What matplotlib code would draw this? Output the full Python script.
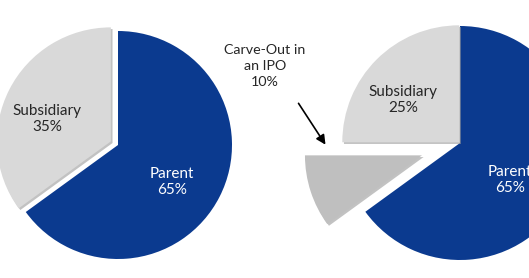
import matplotlib
matplotlib.use("Agg")
import matplotlib.pyplot as plt
import matplotlib.patheffects as pe

plt.rcParams['font.family'] = ['Lato', 'DejaVu Sans']

# Data
left_labels = ["Parent", "Subsidiary"]
left_values = [65, 35]
right_labels = ["Parent", "Carve-Out in\nan IPO", "Subsidiary"]
right_values = [65, 10, 25]

blue = "#0B3A8F"
light = "#D9D9D9"
mid = "#BFBFBF"

W, H = 529, 278
fig = plt.figure(figsize=(W / 100, H / 100), dpi=100)
ax = fig.add_axes([0, 0, 1, 1])

shadow = [pe.SimplePatchShadow(offset=(1.2, -1.2), shadow_rgbFace="#9A9A9A", alpha=0.6), pe.Normal()]

# Left pie (explode in axis units since a radius is given)
lw, _ = ax.pie(left_values, colors=[blue, light], startangle=90, counterclock=False,
               explode=[0, 8], center=(118, 133), radius=114, frame=True,
               wedgeprops=dict(linewidth=0))
lw[1].set_path_effects(shadow)

# Right pie
rw, _ = ax.pie(right_values, colors=[blue, mid, light], startangle=90, counterclock=False,
               explode=[0, 40, 1], center=(460, 135), radius=117, frame=True,
               wedgeprops=dict(linewidth=0))
rw[1].set_path_effects(shadow)
rw[2].set_path_effects(shadow)

ax.set_xlim(0, W)
ax.set_ylim(0, H)
ax.set_aspect('equal')
ax.axis('off')

fs = 11
ax.text(47, H - 119, f"{left_labels[1]}\n{left_values[1]}%", ha='center', va='center',
        fontsize=fs, color='#262626', linespacing=1.25)
ax.text(172, H - 182, f"{left_labels[0]}\n{left_values[0]}%", ha='center', va='center',
        fontsize=fs, color='white', linespacing=1.25)
ax.text(403, H - 100, f"{right_labels[2]}\n{right_values[2]}%", ha='center', va='center',
        fontsize=fs, color='#262626', linespacing=1.25)
ax.text(510, H - 180, f"{right_labels[0]}\n{right_values[0]}%", ha='center', va='center',
        fontsize=fs, color='white', linespacing=1.25)
ax.text(265, H - 66, f"{right_labels[1]}\n{right_values[1]}%", ha='center', va='center',
        fontsize=10.3, color='#262626', linespacing=1.4)
ax.annotate("", xy=(327, H - 147), xytext=(297, H - 101),
            arrowprops=dict(arrowstyle='-|>', color='black', lw=1.2, mutation_scale=14))

fig.savefig("out.png", dpi=100, facecolor='white')
